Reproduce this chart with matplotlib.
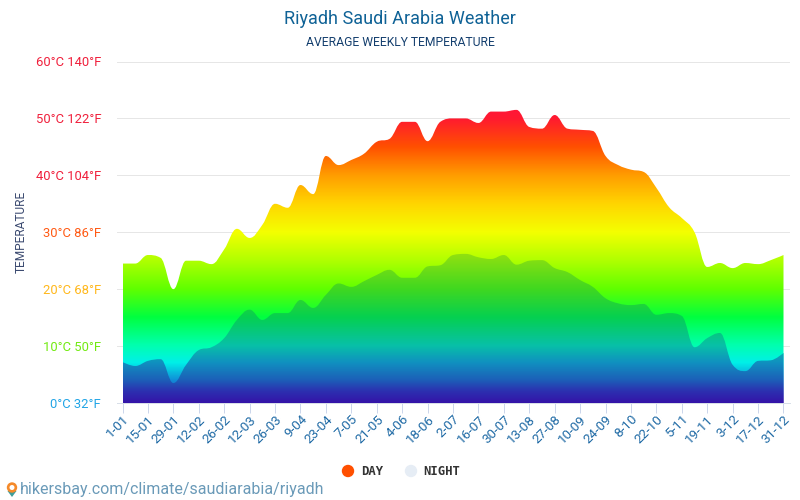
import matplotlib
matplotlib.use("Agg")
import matplotlib.pyplot as plt
import numpy as np
from matplotlib.colors import LinearSegmentedColormap
from matplotlib.patches import Circle, PathPatch, Polygon
from matplotlib.path import Path

plt.rcParams['font.family'] = ['Roboto', 'DejaVu Sans']

tick_labels = ["1-01", "15-01", "29-01", "12-02", "26-02", "12-03", "26-03", "9-04", "23-04",
               "7-05", "21-05", "4-06", "18-06", "2-07", "16-07", "30-07", "13-08", "27-08",
               "10-09", "24-09", "8-10", "22-10", "5-11", "19-11", "3-12", "17-12", "31-12"]

# weekly values, 53 points
day = [24.5, 24.5, 26, 25.5, 20, 25, 25, 24.4, 27, 30.6, 29, 31.3, 35, 34.3, 38.3, 36.7, 43.4, 41.8,
       42.7, 43.8, 45.9, 46.4, 49.4, 49.4, 46, 49.4, 50, 50, 49.2, 51.2, 51.2, 51.5, 48.5, 48.2, 50.6,
       48.2, 48, 47.8, 43.4, 41.8, 41, 40.6, 37.8, 34.4, 32.5, 30, 23.9, 24.6, 23.7, 24.6, 24.4, 25.1, 26]
night = [7.2, 6.5, 7.4, 7.7, 3.5, 6.7, 9.3, 9.8, 11.4, 14.6, 16.4, 14.6, 15.8, 15.8, 18.1, 16.7, 19, 21,
         20.4, 21.4, 22.5, 23.4, 22, 22, 24, 24.2, 26, 26.2, 25.6, 25.3, 26, 24.3, 25, 25.1, 23.7,
         23, 21.6, 20.4, 18.4, 17.5, 17.2, 17.4, 15.5, 15.8, 15.3, 9.8, 11.4, 12.3, 6.7, 5.6, 7.4, 7.5, 8.8]

temp_ticks = [0, 10, 20, 30, 40, 50, 60]
temp_labels = ["0°C 32°F", "10°C 50°F", "20°C 68°F", "30°C 86°F", "40°C 104°F", "50°C 122°F", "60°C 140°F"]
temp_colors = ["#22a5e6", "#72ea12", "#ffb81c", "#ff5a14", "#f0203c", "#f0203c", "#f0203c"]

# gradient stops (share of 0..60 scale, colour)
day_stops = [(0, "#3414a8"), (4 / 60, "#1090d8"), (7 / 60, "#00f0e8"), (10 / 60, "#00ffb0"), (15 / 60, "#00ff40"),
             (20 / 60, "#60ff00"), (25 / 60, "#b0ff00"), (30 / 60, "#f4ff00"), (35 / 60, "#ffd500"),
             (40 / 60, "#ff9d00"), (45 / 60, "#ff5000"), (50 / 60, "#ff1a30"), (1, "#ff0060")]
night_stops = [(0, "#3414a8"), (2 / 60, "#2c30b0"), (4 / 60, "#1c60b8"), (7 / 60, "#1090c0"), (10 / 60, "#08c0a8"),
               (15 / 60, "#05d050"), (20 / 60, "#40d820"), (26 / 60, "#90e010"), (1, "#c0f000")]


def spline_path(xs, ys, base=0):
    # same control points as a highcharts areaspline
    verts = [(xs[0], base), (xs[0], ys[0])]
    codes = [Path.MOVETO, Path.LINETO]
    lefts = [None] * len(xs)
    rights = [None] * len(xs)
    for i in range(len(xs)):
        if i == 0 or i == len(xs) - 1:
            lefts[i] = rights[i] = (xs[i], ys[i])
            continue
        x, y = xs[i], ys[i]
        lx, ly = (1.5 * x + xs[i - 1]) / 2.5, (1.5 * y + ys[i - 1]) / 2.5
        rx, ry = (1.5 * x + xs[i + 1]) / 2.5, (1.5 * y + ys[i + 1]) / 2.5
        corr = (ry - ly) * (rx - x) / (rx - lx) + y - ry
        ly += corr
        ry += corr
        if ly > ys[i - 1] and ly > y:
            ly = max(ys[i - 1], y)
            ry = 2 * y - ly
        elif ly < ys[i - 1] and ly < y:
            ly = min(ys[i - 1], y)
            ry = 2 * y - ly
        if ry > ys[i + 1] and ry > y:
            ry = max(ys[i + 1], y)
            ly = 2 * y - ry
        elif ry < ys[i + 1] and ry < y:
            ry = min(ys[i + 1], y)
            ly = 2 * y - ry
        lefts[i] = (lx, ly)
        rights[i] = (rx, ry)
    for i in range(len(xs) - 1):
        verts += [rights[i], lefts[i + 1], (xs[i + 1], ys[i + 1])]
        codes += [Path.CURVE4] * 3
    verts += [(xs[-1], base), (xs[0], base)]
    codes += [Path.LINETO, Path.CLOSEPOLY]
    return Path(verts, codes)


fig = plt.figure(figsize=(8, 5), dpi=100)
ax = fig.add_axes([117 / 800, 1 - 403 / 500, 673 / 800, (403 - 61.5) / 500])
weeks = np.arange(len(day))
px = 661 / 52

ramp = np.linspace(0, 1, 512).reshape(-1, 1)
for values, stops, z in [(day, day_stops, 2), (night, night_stops, 3)]:
    cmap = LinearSegmentedColormap.from_list("temp", stops)
    im = ax.imshow(ramp, cmap=cmap, origin="lower", aspect="auto", extent=(0, 52, 0, 60), zorder=z)
    im.set_clip_path(PathPatch(spline_path(weeks, values), transform=ax.transData))
ax.set_xlim(-5.5 / px, 52 + 6.5 / px)
ax.set_ylim(0, 60)

for s in ["top", "left", "right"]:
    ax.spines[s].set_visible(False)
ax.spines["bottom"].set_color("#d8dfe8")
ax.spines["bottom"].set_linewidth(0.72)
ax.grid(axis="y", color="#e6e6e6", lw=0.72)
ax.set_axisbelow(True)

ax.set_yticks(temp_ticks)
ax.set_yticklabels(temp_labels, fontsize=9.4)
ax.tick_params(axis="y", length=0, pad=11.5)
for lab, c in zip(ax.get_yticklabels(), temp_colors):
    lab.set_color(c)

ax.set_xticks(weeks[::2])
ax.set_xticklabels(tick_labels, rotation=45, ha="right", rotation_mode="anchor", fontsize=9.6, color="#1f6aa5")
ax.tick_params(axis="x", length=7, width=0.72, color="#ccd6eb", pad=0)

fig.text(0.5, 1 - 18.5 / 500, "Riyadh Saudi Arabia Weather", ha="center", va="center", fontsize=13, color="#0f6296")
fig.text(0.5, 1 - 42 / 500, "AVERAGE WEEKLY TEMPERATURE", ha="center", va="center", fontsize=8.7, color="#143f6e")
fig.text(21 / 800, 1 - 232 / 500, "TEMPERATURE", rotation=90, ha="center", va="center", fontsize=8.6, color="#3b4a70")

# overlay in pixel coordinates for legend and link
over = fig.add_axes([0, 0, 1, 1], facecolor="none")
over.set_xlim(0, 800)
over.set_ylim(500, 0)
over.axis("off")
over.add_patch(Circle((348, 471), 6.2, color="#ff4f00", lw=0))
over.add_patch(Circle((411, 471), 6.2, color="#e6edf5", lw=0))
over.text(361, 471.5, "DAY", family="DejaVu Sans Mono", weight="bold", fontsize=8.8, color="#333333", va="center")
over.text(423, 471.5, "NIGHT", family="DejaVu Sans Mono", weight="bold", fontsize=8.8, color="#333333", va="center")
over.text(20, 489.5, "hikersbay.com/climate/saudiarabia/riyadh", fontsize=11.5, color="#6a9ab8", va="center")

# map pin
over.add_patch(Polygon([(7.5, 491), (16.5, 491), (12, 497)], color="#3f9e9a", lw=0))
over.add_patch(Circle((12, 487.5), 5.2, color="#f58a2a", lw=0))
over.add_patch(Circle((12, 487.5), 2.5, color="white", lw=0))

fig.savefig("out.png", dpi=100)
